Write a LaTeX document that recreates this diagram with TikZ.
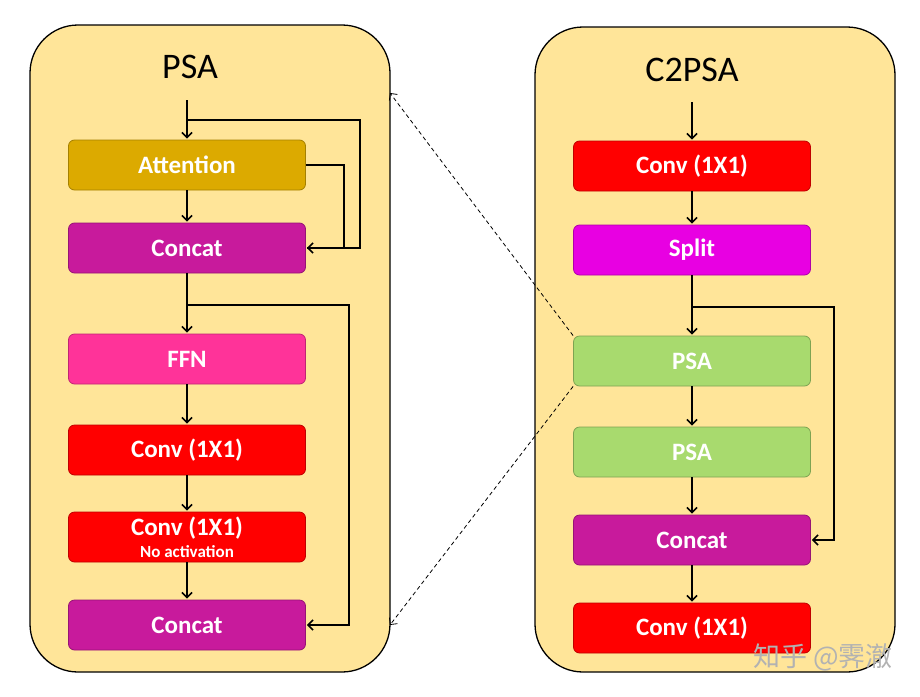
\documentclass[tikz,border=0pt]{standalone}
\usepackage{fontspec}
\setmainfont{Carlito}
\newfontfamily\cjk{Noto Sans CJK SC}
\usetikzlibrary{arrows}
\usetikzlibrary{arrows.meta}
\usetikzlibrary{positioning}

\definecolor{panelbg}{RGB}{255,229,153}
\definecolor{attgold}{RGB}{220,170,0}
\definecolor{catpurple}{RGB}{200,26,156}
\definecolor{ffnpink}{RGB}{255,51,153}
\definecolor{convred}{RGB}{255,0,0}
\definecolor{splitmag}{RGB}{232,0,226}
\definecolor{psagreen}{RGB}{168,218,110}

\begin{document}
\begin{tikzpicture}[x=1pt,y=-1pt,>={Straight Barb[length=5pt,width=10pt]},shorten >=1pt,node distance=88pt,line width=1.6pt,
    block/.style={draw=#1!75!black,fill=#1,line width=0.8pt,rounded corners=6pt,
      minimum width=237pt,minimum height=50pt,text=white,align=center,
      font=\fontsize{25}{28}\selectfont\bfseries},
    panel/.style={draw,fill=panelbg,line width=1.3pt,rounded corners=48pt},
    title/.style={font=\fontsize{36}{40}\selectfont}]

      \useasboundingbox (0,0) rectangle (920,696);

      % the two panels
      \draw[panel] (30,25) rectangle (390,672);
      \draw[panel] (535,27) rectangle (895,672);
      \node[title] (psat) at (190,67) {PSA};
      \node[title] (c2psat) at (692,70) {C2PSA};

      % PSA
      \node (att) [block=attgold] at (187,165) {Attention};
      \node (cat) [block=catpurple,below of=att,node distance=83pt] {Concat};
      \node (ffn) [block=ffnpink,below of=cat,node distance=111pt] {FFN};
      \node (conv) [block=convred,below of=ffn,node distance=91pt] {Conv (1X1)};
      \node (conv') [block=convred,below of=conv,node distance=87pt]
        {Conv (1X1)\\[-6pt]{\fontsize{17}{18}\selectfont No activation}};
      \node (cat') [block=catpurple,below of=conv'] {Concat};

      % C2PSA
      \node (rconv) [block=convred] at (692,166) {Conv (1X1)};
      \node (split) [block=splitmag,below of=rconv,node distance=84pt] {Split};
      \node (psa) [block=psagreen,below of=split,node distance=111pt] {PSA};
      \node (psa') [block=psagreen,below of=psa,node distance=91pt] {PSA};
      \node (rcat) [block=catpurple,below of=psa'] {Concat};
      \node (rconv') [block=convred,below of=rcat] {Conv (1X1)};

      \coordinate (psain) at (187,100);
      \coordinate (sk1) at (187,120);
      \coordinate (sk2) at (187,305);
      \coordinate (rin) at (692,102);
      \coordinate (sk3) at (692,307);
      \coordinate (up) at (390,93);
      \coordinate (down) at (390,625);

      % zoom lines
      \draw[->,dash pattern=on 4pt off 3pt,line width=0.8pt,shorten >=0pt] (psa.north west) -- (up);
      \draw[->,dash pattern=on 4pt off 3pt,line width=0.8pt,shorten >=0pt] (psa.south west) -- (down);

      \path[->]
        (psain) edge (att)
        (att) edge (cat)
        (cat) edge (ffn)
        (ffn) edge (conv)
        (conv) edge (conv')
        (conv') edge (cat')
        (rin) edge (rconv)
        (rconv) edge (split)
        (split) edge (psa)
        (psa) edge (psa')
        (psa') edge (rcat)
        (rcat) edge (rconv');

      % skip connections
      \draw[->] (sk1) -- ++(173,0) |- (cat);
      \draw (att.east) -- ++(38,0) |- (cat.east);
      \draw[->] (sk2) -- ++(162,0) |- (cat');
      \draw[->] (sk3) -- ++(142,0) |- (rcat);

      \node[text=black!30,font=\cjk\fontsize{27}{30}\selectfont] (mark) at (823,657) {知乎 @霁澈};
\end{tikzpicture}
\end{document}
